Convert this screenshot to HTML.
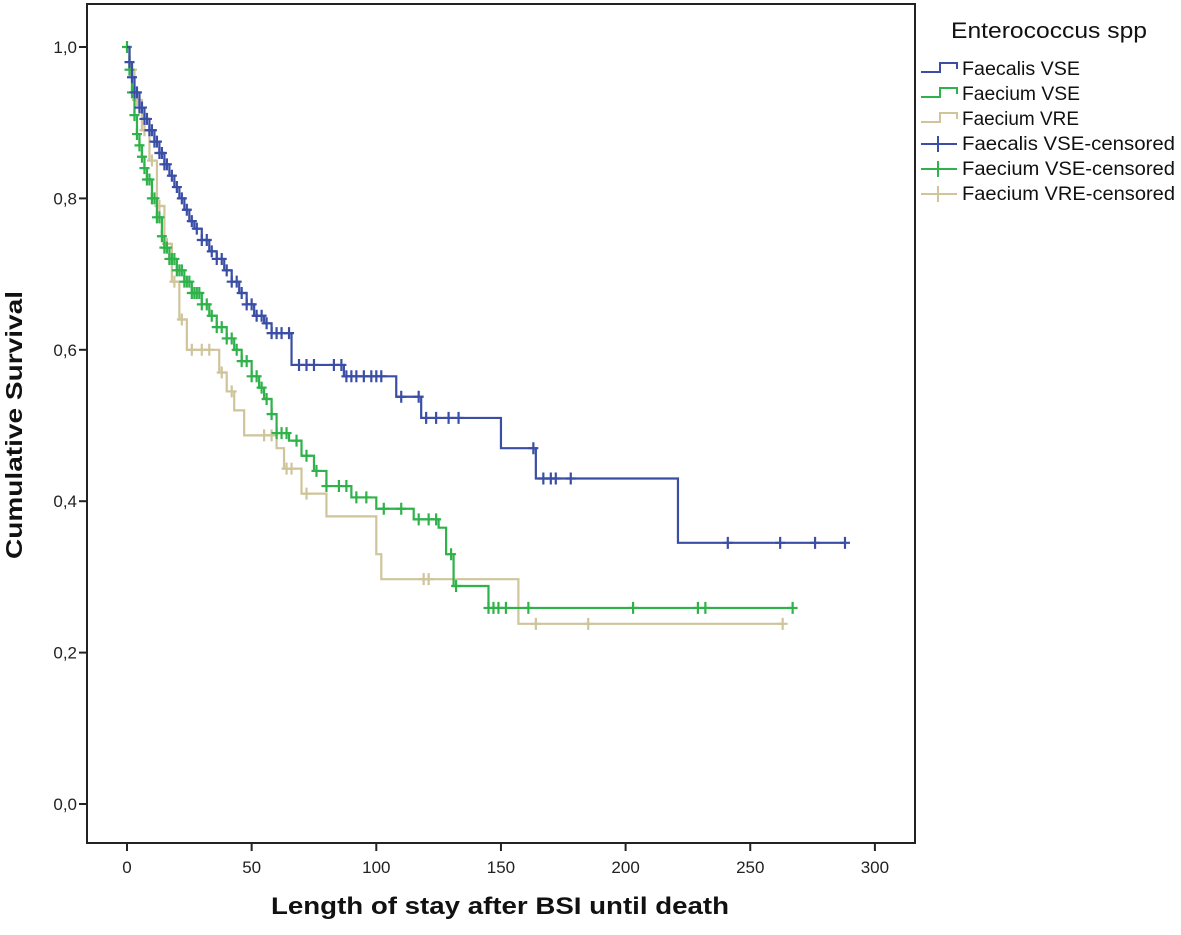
<!DOCTYPE html>
<html><head><meta charset="utf-8"><style>
html,body{margin:0;padding:0;background:#fff;}
svg{display:block;font-family:"Liberation Sans",Arial,sans-serif;}
</style></head><body>
<svg id="chart" width="1181" height="935" viewBox="0 0 1181 935">
<rect x="0" y="0" width="1181" height="935" fill="#fff"/>
<rect x="87" y="4" width="828" height="839" fill="none" stroke="#222" stroke-width="2"/>
<g id="yaxis"></g>
<g id="xaxis"></g>
<g id="series"></g>
<text x="0" y="0" transform="translate(22,425) rotate(-90)" text-anchor="middle" font-size="23" font-weight="bold" fill="#111" textLength="268" lengthAdjust="spacingAndGlyphs">Cumulative Survival</text>
<text x="500" y="914" text-anchor="middle" font-size="24" font-weight="bold" fill="#111" textLength="458" lengthAdjust="spacingAndGlyphs">Length of stay after BSI until death</text>
<g>
<text x="951" y="38" font-size="22" fill="#111" textLength="196" lengthAdjust="spacingAndGlyphs">Enterococcus spp</text>
<g id="legend-items"></g>
</g>
</svg>
<script>
const yTicks = [0, 0.2, 0.4, 0.6, 0.8, 1.0];
const yTickLabels = ["0,0", "0,2", "0,4", "0,6", "0,8", "1,0"];
const xTicks = [0, 50, 100, 150, 200, 250, 300];
const xTickLabels = ["0", "50", "100", "150", "200", "250", "300"];

const faecalisTimes = [0, 1, 2, 3, 5, 7, 9, 11, 13, 15, 17, 19, 21, 23, 25, 27, 30, 33, 36, 39, 42, 45, 48, 51, 55, 58, 66, 87, 108, 118, 150, 164, 221];
const faecalisSurv  = [1.0, 0.98, 0.96, 0.94, 0.92, 0.905, 0.89, 0.875, 0.86, 0.845, 0.83, 0.815, 0.80, 0.785, 0.77, 0.76, 0.745, 0.73, 0.72, 0.705, 0.69, 0.675, 0.66, 0.645, 0.635, 0.622, 0.58, 0.565, 0.538, 0.51, 0.47, 0.43, 0.345];
const faecalisCensor = [1,2,3,4,5,6,7,8,9,10,11,12,13,14,15,16,18,20,22,24,26,28,30,32,34,36,38,40,42,44,46,48,50,52,54,56,58,60,62,65,69,72,75,83,86,88,90,92,95,98,100,102,110,117,120,124,129,133,163,167,170,172,178,241,262,276,288];

const faeciumVseTimes = [0, 1, 2, 3, 4, 5, 6, 7, 8, 10, 12, 14, 15, 17, 20, 23, 26, 30, 33, 36, 40, 43, 46, 50, 53, 55, 58, 60, 65, 70, 75, 80, 90, 100, 115, 125, 128, 131, 145];
const faeciumVseSurv  = [1.0, 0.97, 0.94, 0.91, 0.885, 0.87, 0.855, 0.84, 0.825, 0.80, 0.775, 0.75, 0.735, 0.72, 0.705, 0.69, 0.675, 0.66, 0.645, 0.63, 0.615, 0.60, 0.585, 0.565, 0.55, 0.535, 0.515, 0.49, 0.48, 0.46, 0.44, 0.42, 0.405, 0.39, 0.376, 0.365, 0.33, 0.288, 0.259];
const faeciumVseCensor = [0,1,2,3,4,5,6,7,8,9,10,11,12,13,14,15,16,17,18,19,20,21,22,23,24,25,26,27,28,29,30,32,34,36,38,40,42,44,46,48,50,52,54,56,58,60,62,64,68,72,76,80,85,88,92,96,103,110,117,121,124,130,132,145,147,149,152,161,203,229,232,267];

const faeciumVreTimes = [0, 1, 3, 6, 9, 12, 15, 18, 21, 24, 37, 40, 43, 47, 60, 63, 70, 80, 100, 102, 157];
const faeciumVreSurv  = [1.0, 0.97, 0.93, 0.89, 0.85, 0.79, 0.74, 0.69, 0.64, 0.60, 0.57, 0.545, 0.52, 0.487, 0.47, 0.443, 0.41, 0.38, 0.33, 0.297, 0.238];
const faeciumVreCensor = [1,2,4,7,10,13,16,19,22,26,30,33,38,42,55,58,64,66,72,119,121,164,185,263];

const X0 = 127, XPX = 2.493, Y0 = 804, YPX = 757;
function xScale(t){ return X0 + t * XPX; }
function yScale(s){ return Y0 - s * YPX; }
const NS = "http://www.w3.org/2000/svg";
function mk(tag, attrs, parent){ const e = document.createElementNS(NS, tag); for (const k in attrs) e.setAttribute(k, attrs[k]); parent.appendChild(e); return e; }

const yax = document.getElementById('yaxis');
yTicks.forEach((v, i) => {
  const tk = mk('line', {x1: 79, x2: 87, y1: yScale(v), y2: yScale(v), stroke: '#222', 'stroke-width': 2}, yax);
  
  
  const lb = mk('text', {x: 77, y: yScale(v) + 6, 'text-anchor': 'end', 'font-size': 17, fill: '#222'}, yax);
  lb.textContent = yTickLabels[i];
  
  
});
const xax = document.getElementById('xaxis');
xTicks.forEach((v, i) => {
  const tk = mk('line', {x1: xScale(v), x2: xScale(v), y1: 843, y2: 851, stroke: '#222', 'stroke-width': 2}, xax);
  
  
  const lb = mk('text', {x: xScale(v), y: 873, 'text-anchor': 'middle', 'font-size': 17, fill: '#222'}, xax);
  lb.textContent = xTickLabels[i];
  
  
});

function survAt(times, surv, t){ let s = surv[0]; for (let i = 0; i < times.length; i++){ if (times[i] <= t) s = surv[i]; } return s; }
const sg = document.getElementById('series');
function drawSeries(times, surv, censor, color, name){
  const end = Math.max(censor[censor.length - 1], times[times.length - 1]);
  let d = 'M' + xScale(times[0]) + ',' + yScale(surv[0]);
  for (let i = 1; i < times.length; i++){
    d += ' H' + xScale(times[i]) + ' V' + yScale(surv[i]);
  }
  d += ' H' + xScale(end);
  const p = mk('path', {d: d, fill: 'none', stroke: color, 'stroke-width': 2.2}, sg);
  
  
  censor.forEach(t => {
    const cx = xScale(t), cy = yScale(survAt(times, surv, t));
    const c = mk('path', {d: 'M' + (cx - 5) + ',' + cy + ' H' + (cx + 5) + ' M' + cx + ',' + (cy - 6) + ' V' + (cy + 6), stroke: color, 'stroke-width': 2.2, fill: 'none'}, sg);
    
    
  });
}
drawSeries(faeciumVreTimes, faeciumVreSurv, faeciumVreCensor, '#cfc49a', 'faecium-vre');
drawSeries(faeciumVseTimes, faeciumVseSurv, faeciumVseCensor, '#2fb24a', 'faecium-vse');
drawSeries(faecalisTimes, faecalisSurv, faecalisCensor, '#3a4ea5', 'faecalis-vse');

const legendNames = ["Faecalis VSE", "Faecium VSE", "Faecium VRE", "Faecalis VSE-censored", "Faecium VSE-censored", "Faecium VRE-censored"];
const legendColors = ['#3a4ea5', '#2fb24a', '#cfc49a', '#3a4ea5', '#2fb24a', '#cfc49a'];
const legendWidths = [118, 118, 117, 213, 213, 213];
const lg = document.getElementById('legend-items');
legendNames.forEach((n, i) => {
  const y = 68 + i * 25;
  let d;
  if (i < 3) d = 'M921,' + (y + 4) + ' H940 V' + (y - 5) + ' H957 V' + (y + 1);
  else d = 'M921,' + (y + 1) + ' H957 M938,' + (y - 7) + ' V' + (y + 9);
  const sym = mk('path', {d: d, fill: 'none', stroke: legendColors[i], 'stroke-width': 2}, lg);
  
  
  const t = mk('text', {x: 962, y: y + 7, 'font-size': 19, fill: '#111', textLength: legendWidths[i], lengthAdjust: 'spacingAndGlyphs'}, lg);
  t.textContent = n;
  
  
});
</script>
</body></html>
